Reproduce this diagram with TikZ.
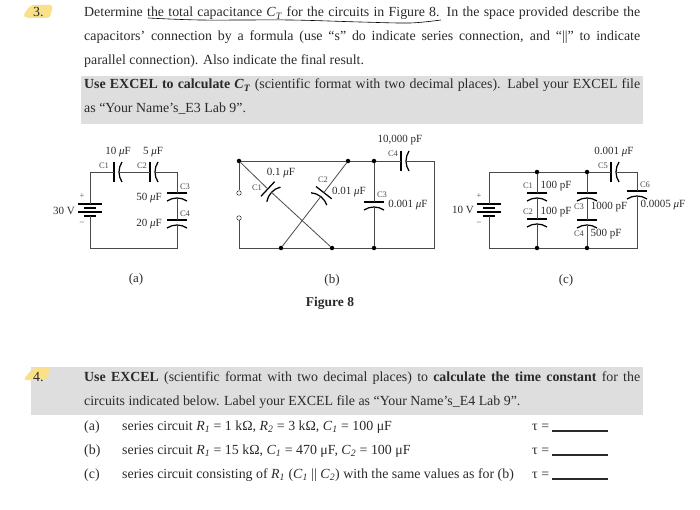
\documentclass[tikz,border=0pt]{standalone}
\usepackage{fontspec}
\setmainfont{Liberation Serif}
\definecolor{ink}{HTML}{2A2A2A}
\definecolor{band}{HTML}{DEDEDE}
\definecolor{marker}{HTML}{FBE08A}
\newcommand{\full}[1]{\makebox[556pt][s]{#1}}
\newcommand{\cvar}[2]{\textit{#1}\textsubscript{\textit{#2}}}
\newcommand{\uF}{{\itshape μ}F}
\tikzset{
    wire/.style={draw=ink!85,line width=0.8pt},
    plate/.style={draw=black,line width=1.25pt},
    textline/.style={anchor=base west,inner sep=0pt,text=ink,font=\fontsize{13.9}{16}\selectfont},
    val/.style={inner sep=0pt,text=ink,font=\fontsize{11}{13}\selectfont},
    tag/.style={inner sep=0pt,text=ink!85,font=\fontsize{8.5}{10}\selectfont},
    sublabel/.style={inner sep=0pt,text=ink,font=\fontsize{13}{15}\selectfont},
    dot/.style={circle,fill=black,inner sep=0pt,minimum size=4.5pt},
    openend/.style={circle,draw=ink,fill=white,line width=0.5pt,inner sep=0pt,minimum size=4.5pt},
    capplate/.pic={
        \draw[plate] (-10,-3) -- (10,-3);
        \draw[plate] (-10,5) .. controls (-4,1) and (4,1) .. (10,5);
        \coordinate (-a) at (0,-3);
        \coordinate (-b) at (0,2);
    },
    battplate/.pic={
        \draw[plate] (-12,-6) -- (12,-6);
        \draw[plate,line width=1.6pt] (-6,-2) -- (6,-2);
        \draw[plate] (-12,2) -- (12,2);
        \draw[plate,line width=1.6pt] (-6,6) -- (6,6);
        \coordinate (-a) at (0,-6);
        \coordinate (-b) at (0,6);
    }
}
\begin{document}
\begin{tikzpicture}[x=1pt,y=-1pt]
    \useasboundingbox (0,0) rectangle (700,510);
    % shaded bands and marker strokes
    \fill[band] (81,76) rectangle (643,124);
    \fill[band] (31,367) rectangle (643,415);
    \fill[marker,rounded corners=3pt] (23,15) -- (31,5) -- (53,5) -- (50,18) -- (26,18) -- cycle;
    \fill[marker,rounded corners=3pt] (23,380) -- (33,368) -- (51,368) -- (46,380) -- cycle;

    % question 3
    \node[textline] (num3) at (33,17) {3.};
    \node[textline] (q3a) at (84,17) {\full{Determine the total capacitance \cvar{C}{T} for the circuits in Figure 8. In the space provided describe the}};
    \node[textline] (q3b) at (84,41) {\full{capacitors’ connection by a formula (use “s” do indicate series connection, and “||” to indicate}};
    \node[textline] (q3c) at (84,65) {parallel connection). Also indicate the final result.};
    \node[textline] (q3d) at (84,89) {\full{\textbf{Use EXCEL to calculate \cvar{C}{T}} (scientific format with two decimal places). Label your EXCEL file}};
    \node[textline] (q3e) at (84,113) {as “Your Name’s\_E3 Lab 9”.};
    \draw[black,line width=0.6pt] plot[smooth] coordinates {(148,18) (200,20) (290,20) (360,22) (410,23) (441,20)};

    % circuit (a)
    \coordinate (atl) at (90,172);
    \coordinate (atr) at (177,172);
    \coordinate (abr) at (177,248);
    \coordinate (abl) at (90,248);
    \pic (abat) at (90,210) {battplate};
    \pic[rotate=90] (ac1) at (117,172) {capplate};
    \pic[rotate=90] (ac2) at (153,172) {capplate};
    \pic (ac3) at (177,196) {capplate};
    \pic (ac4) at (177,223) {capplate};
    \draw[wire] (abat-a) -- (atl) -- (ac1-a);
    \draw[wire] (ac1-b) -- (ac2-a);
    \draw[wire] (ac2-b) -- (atr) -- (ac3-a);
    \draw[wire] (ac3-b) -- (ac4-a);
    \draw[wire] (ac4-b) -- (abr) -- (abl) -- (abat-b);
    \node[val] (a10) at (118,152) {10 \uF};
    \node[val] (a5) at (153,152) {5 \uF};
    \node[tag] (alc1) at (104,166) {C1};
    \node[tag] (alc2) at (142,166) {C2};
    \node[tag] (alc3) at (185,187) {C3};
    \node[tag] (alc4) at (185,214) {C4};
    \node[val] (a50) at (149,198) {50 \uF};
    \node[val] (a20) at (149,224) {20 \uF};
    \node[val] (a30) at (64,211) {30 V};
    \node[tag] (aplus) at (82,196) {+};
    \node[tag] (aminus) at (82,223) {–};
    \node[sublabel] (acap) at (136,279) {(a)};

    % circuit (b)
    \node[dot] (btl) at (239,161) {};
    \node[dot] (btm) at (348,161) {};
    \node[dot] (btj) at (374,161) {};
    \node[dot] (bbm) at (281,248) {};
    \node[dot] (bbn) at (332,248) {};
    \node[dot] (bbj) at (374,248) {};
    \node[openend] (bopa) at (239,193) {};
    \node[openend] (bopb) at (239,218) {};
    \coordinate (bbl) at (239,248);
    \coordinate (btr) at (434,161);
    \coordinate (bbr) at (434,248);
    \pic[rotate=47] (bc1) at (270,191) {capplate};
    \pic[rotate=-38] (bc2) at (322,195) {capplate};
    \pic (bc3) at (374,205) {capplate};
    \pic[rotate=90] (bc4) at (404,161) {capplate};
    \draw[wire] (bopa) -- (btl) -- (btm) -- (btj) -- (bc4-a);
    \draw[wire] (bc4-b) -- (btr) -- (bbr) -- (bbj) -- (bbn) -- (bbm) -- (bbl) -- (bopb);
    \draw[wire] (btl) -- (bc1-a);
    \draw[wire] (bc1-b) -- (bbn);
    \draw[wire] (btm) -- (bc2-a);
    \draw[wire] (bc2-b) -- (bbm);
    \draw[wire] (btj) -- (bc3-a);
    \draw[wire] (bc3-b) -- (bbj);
    \node[val] (b10k) at (400,140) {10,000 pF};
    \node[tag] (blc4) at (393,154) {C4};
    \node[val] (b01) at (281,173) {0.1 \uF};
    \node[tag] (blc1) at (257,188) {C1};
    \node[tag] (blc2) at (323,180) {C2};
    \node[val] (b001) at (349,192) {0.01 \uF};
    \node[tag] (blc3) at (382,195) {C3};
    \node[val] (b0001) at (408,205) {0.001 \uF};
    \node[sublabel] (bcap) at (332,280) {(b)};
    \node[sublabel,font=\fontsize{13.5}{15}\selectfont\bfseries] (figcap) at (330,303) {Figure 8};

    % circuit (c)
    \node[dot] (ct1) at (537,172) {};
    \node[dot] (ct2) at (587,172) {};
    \node[dot] (cb1) at (537,248) {};
    \node[dot] (cb2) at (587,248) {};
    \coordinate (ctl) at (489,172);
    \coordinate (ctr) at (637,172);
    \coordinate (cbr) at (637,248);
    \coordinate (cbl) at (489,248);
    \pic (cbat) at (489,210) {battplate};
    \pic (cc1) at (537,196) {capplate};
    \pic (cc2) at (537,222) {capplate};
    \pic (cc3) at (587,196) {capplate};
    \pic (cc4) at (587,223) {capplate};
    \pic[rotate=90] (cc5) at (614,172) {capplate};
    \pic (cc6) at (637,194) {capplate};
    \draw[wire] (cbat-a) -- (ctl) -- (ct1) -- (ct2) -- (cc5-a);
    \draw[wire] (cc5-b) -- (ctr) -- (cc6-a);
    \draw[wire] (cc6-b) -- (cbr) -- (cb2) -- (cb1) -- (cbl) -- (cbat-b);
    \draw[wire] (ct1) -- (cc1-a);
    \draw[wire] (cc1-b) -- (cc2-a);
    \draw[wire] (cc2-b) -- (cb1);
    \draw[wire] (ct2) -- (cc3-a);
    \draw[wire] (cc3-b) -- (cc4-a);
    \draw[wire] (cc4-b) -- (cb2);
    \node[val] (c0001) at (614,152) {0.001 \uF};
    \node[tag] (clc5) at (603,166) {C5};
    \node[tag] (clc1) at (528,186) {C1};
    \node[val] (c100a) at (556,186) {100 pF};
    \node[tag] (clc2) at (528,212) {C2};
    \node[val] (c100b) at (556,212) {100 pF};
    \node[tag] (clc3) at (579,207) {C3};
    \node[val] (c1000) at (609,207) {1000 pF};
    \node[tag] (clc4) at (579,234) {C4};
    \node[val] (c500) at (606,234) {500 pF};
    \node[tag] (clc6) at (645,185) {C6};
    \node[val] (c00005) at (663,205) {0.0005 \uF};
    \node[val] (c10) at (463,210) {10 V};
    \node[tag] (cplus) at (479,196) {+};
    \node[tag] (cminus) at (479,223) {–};
    \node[sublabel] (ccap) at (566,280) {(c)};

    % question 4
    \node[textline] (num4) at (33,381) {4.};
    \node[textline] (q4a) at (84,381) {\full{\textbf{Use EXCEL} (scientific format with two decimal places) to \textbf{calculate the time constant} for the}};
    \node[textline] (q4b) at (84,405) {circuits indicated below. Label your EXCEL file as “Your Name’s\_E4 Lab 9”.};
    \node[textline] (ra) at (84,430) {(a)};
    \node[textline] (rb) at (84,454) {(b)};
    \node[textline] (rc) at (84,478) {(c)};
    \node[textline] (sa) at (122,430) {series circuit \cvar{R}{1} = 1 kΩ, \cvar{R}{2} = 3 kΩ, \cvar{C}{1} = 100 μF};
    \node[textline] (sb) at (122,454) {series circuit \cvar{R}{1} = 15 kΩ, \cvar{C}{1} = 470 μF, \cvar{C}{2} = 100 μF};
    \node[textline] (sc) at (122,478) {series circuit consisting of \cvar{R}{1} (\cvar{C}{1} || \cvar{C}{2}) with the same values as for (b)};
    \node[textline] (ta) at (532,430) {τ =};
    \node[textline] (tb) at (532,454) {τ =};
    \node[textline] (tc) at (532,478) {τ =};
    \foreach \y in {431,455,479}
        \draw[ink,line width=1.1pt] (552,\y) -- (608,\y);
\end{tikzpicture}
\end{document}
